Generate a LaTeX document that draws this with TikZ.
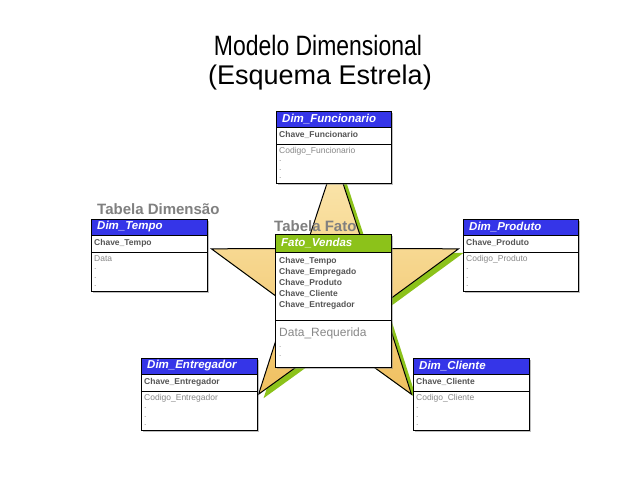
\documentclass[tikz,border=0pt]{standalone}
\usepackage{fontspec}
\setmainfont{Liberation Sans}
\newfontfamily\narrowf{Liberation Sans}[FakeStretch=0.82]
\usetikzlibrary{shadows}
\definecolor{hdrblue}{HTML}{3535E8}
\definecolor{hdrgreen}{HTML}{8CC21A}
\definecolor{txtgray}{HTML}{555555}
\definecolor{lgray}{HTML}{888888}
\definecolor{starA}{HTML}{FBE7B0}
\definecolor{starB}{HTML}{F0C060}
\begin{document}
\begin{tikzpicture}[x=1pt,y=-1pt,
  tbl/.style={draw=black,fill=white,line width=0.8pt,drop shadow={shadow xshift=2pt,shadow yshift=-2pt,opacity=0.5}},
  hdr/.style={draw=black,line width=0.8pt},
  htxt/.style={text=white,font=\fontsize{11.5}{12}\selectfont\bfseries\itshape,anchor=west,inner sep=0pt},
  ktxt/.style={text=txtgray,font=\fontsize{8.5}{11}\selectfont\bfseries,anchor=north west,inner sep=0pt,align=left},
  atxt/.style={text=lgray,font=\fontsize{8.5}{8.5}\selectfont,anchor=north west,inner sep=0pt,align=left},
  lbl/.style={text=gray,font=\fontsize{15}{16}\selectfont\bfseries,inner sep=0pt}]
\useasboundingbox (0,0) rectangle (638,479);
\fill[white] (0,0) rectangle (638,479);
% titles
\node[font=\narrowf\fontsize{28}{30}\selectfont] (t1) at (318,45) {Modelo Dimensional};
\node[font=\fontsize{27}{30}\selectfont] (t2) at (320,78) {(Esquema Estrela)};
% star
\def\starpath{(335,159) -- (364.4,248.5) -- (458.6,248.8) -- (382.6,304.5) -- (411.4,394.2) -- (335,339) -- (258.6,394.2) -- (287.4,304.5) -- (211.4,248.8) -- (305.6,248.5) -- cycle}
\begin{scope}[shift={(5,4)}]
\fill[hdrgreen] \starpath;
\end{scope}
\shade[top color=starA,bottom color=starB,draw=black,line width=1pt] \starpath;
% labels
\node[lbl,anchor=west] (ld) at (97,209) {Tabela Dimensão};
\node[lbl,anchor=west] (lf) at (274,226) {Tabela Fato};
% generic table macro
\newcommand{\dimtab}[7]{% name,x,y,title,key,attr,width
  \node[tbl,minimum width=#7,minimum height=72,anchor=north west,inner sep=0pt] (#1) at (#2,#3) {};
  \filldraw[fill=hdrblue,hdr] (#2,#3) rectangle ++(#7,16);
  \node[htxt] (#1h) at (#2+6,#3+8) {#4};
  \draw[line width=0.8pt] (#2,#3+33) -- ++(#7,0);
  \node[ktxt] (#1k) at (#2+3,#3+20) {#5};
  \node[atxt] (#1a) at (#2+3,#3+36) {#6\\.\\.\\.};
}
\dimtab{fun}{276}{111}{Dim\_Funcionario}{Chave\_Funcionario}{Codigo\_Funcionario}{115}
\dimtab{tem}{91}{219}{Dim\_Tempo}{Chave\_Tempo}{Data}{116}
\dimtab{pro}{463}{219}{Dim\_Produto}{Chave\_Produto}{Codigo\_Produto}{115}
\dimtab{ent}{141}{358}{Dim\_Entregador}{Chave\_Entregador}{Codigo\_Entregador}{116}
\dimtab{cli}{413}{358}{Dim\_Cliente}{Chave\_Cliente}{Codigo\_Cliente}{116}
% fact table
\node[tbl,minimum width=116,minimum height=133,anchor=north west,inner sep=0pt] (fato) at (275,234) {};
\filldraw[fill=hdrgreen,hdr] (275,234) rectangle ++(116,18);
\node[htxt] (fatoh) at (281,243) {Fato\_Vendas};
\draw[line width=0.8pt] (275,320) -- ++(116,0);
\node[ktxt] (fatok) at (279,257) {Chave\_Tempo\\Chave\_Empregado\\Chave\_Produto\\Chave\_Cliente\\Chave\_Entregador};
\node[atxt,font=\fontsize{12}{9}\selectfont] (fatoa) at (279,328) {Data\_Requerida\\[2pt]{\fontsize{8}{9}\selectfont .}\\{\fontsize{8}{9}\selectfont .}};
\end{tikzpicture}
\end{document}
